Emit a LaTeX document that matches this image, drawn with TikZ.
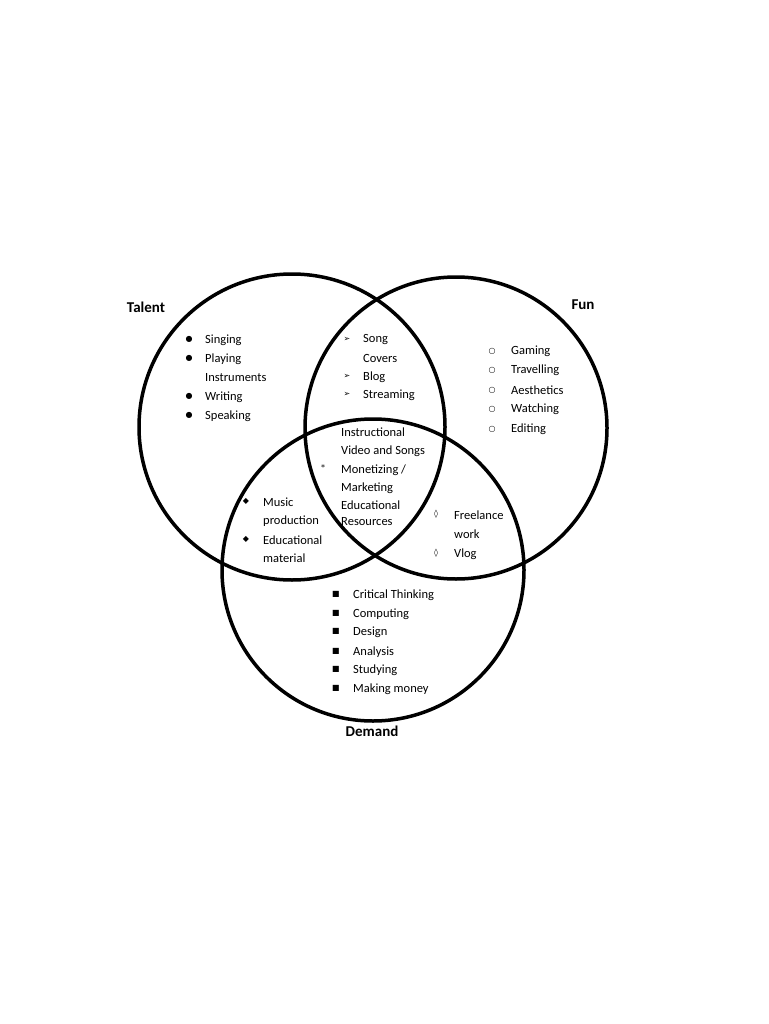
\documentclass[tikz,border=0pt]{standalone}
\usepackage{fontspec}
\setmainfont{Carlito}
\newfontfamily\symf{DejaVu Sans}
\begin{document}
\begin{tikzpicture}[x=1pt,y=-1pt,
  circ/.style={draw,line width=3.5pt},
  txt/.style={anchor=west,inner sep=0pt,font=\fontsize{12.5}{15}\selectfont},
  bul/.style={anchor=center,inner sep=0pt,font=\symf\fontsize{8}{10}\selectfont},
  ttl/.style={inner sep=0pt,font=\bfseries\fontsize{15}{18}\selectfont}]
\useasboundingbox (0,0) rectangle (768,1024);
\draw[circ] (292,427) circle (153);
\draw[circ] (456,428) circle (151);
\draw[circ] (373,570) circle (151);
\node[ttl] (lt) at (146,307) {Talent};
\node[ttl] (lf) at (583,305) {Fun};
\node[ttl] (ld) at (372,731) {Demand};
% Talent
\foreach \y/\t/\b [count=\i] in {340/Singing/1,359/Playing/1,378/Instruments/0,397/Writing/1,416/Speaking/1}{
  \node[txt] (t\i) at (205,\y) {\t};
  \ifnum\b=1 \node[bul] (tb\i) at (189,\y-1) {●};\fi}
% Talent-Fun
\foreach \y/\t/\b [count=\i] in {340/Song/1,358/Covers/0,377/Blog/1,395/Streaming/1}{
  \node[txt] (s\i) at (363,\y) {\t};
  \ifnum\b=1 \node[bul] (sb\i) at (347,\y-1) {➢};\fi}
% Fun
\foreach \y/\t [count=\i] in {351/Gaming,370/Travelling,390/Aesthetics,409/Watching,429/Editing}{
  \node[txt] (f\i) at (511,\y) {\t};
  \node[bul] (fb\i) at (492,\y) {○};}
% Center
\foreach \y/\t/\b [count=\i] in {432/Instructional/1,451/Video and Songs/0,470/{Monetizing /}/1,488/Marketing/0,505/Educational/0,522/Resources/0}{
  \node[txt] (c\i) at (341,\y) {\t};
  \ifnum\b=1 \node[bul] (cb\i) at (323,\y-2) {*};\fi}
% Talent-Demand
\foreach \y/\t/\b [count=\i] in {502/Music/1,521/production/0,540/Educational/1,558/material/0}{
  \node[txt] (m\i) at (263,\y) {\t};
  \ifnum\b=1 \node[bul] (mb\i) at (246,\y-1) {◆};\fi}
% Fun-Demand
\foreach \y/\t/\b [count=\i] in {515/Freelance/1,534/work/0,554/Vlog/1}{
  \node[txt] (r\i) at (454,\y) {\t};
  \ifnum\b=1 \node[bul] (rb\i) at (436,\y-1) {◊};\fi}
% Demand
\foreach \y/\t [count=\i] in {595/Critical Thinking,614/Computing,632/Design,652/Analysis,670/Studying,689/Making money}{
  \node[txt] (d\i) at (353,\y) {\t};
  \node[bul] (db\i) at (336,\y-1) {■};}
\end{tikzpicture}
\end{document}
